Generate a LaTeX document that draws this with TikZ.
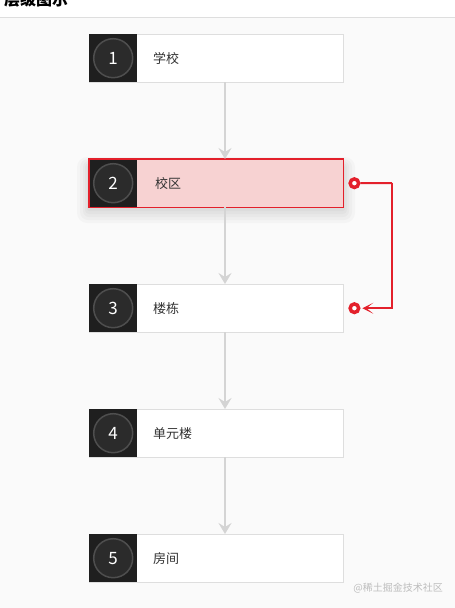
\documentclass[tikz,border=0pt]{standalone}
\usepackage{fontspec}
\setmainfont{Noto Sans CJK SC}
\usetikzlibrary{arrows.meta}
\definecolor{pagebg}{HTML}{FAFAFA}
\definecolor{linegray}{HTML}{D4D4D4}
\definecolor{boxborder}{HTML}{DEDEDE}
\definecolor{hired}{HTML}{E3202B}
\definecolor{hipink}{HTML}{F7D2D2}
\definecolor{badge}{HTML}{1F1F1F}
\definecolor{badgein}{HTML}{2B2B2B}
\definecolor{badgering}{HTML}{4E4E4E}
\definecolor{labeltext}{HTML}{333333}
\definecolor{marktext}{HTML}{BDBDBD}
\begin{document}
\begin{tikzpicture}[x=1pt,y=-1pt,
  levelbox/.style={draw=boxborder, fill=white, minimum width=254pt, minimum height=48pt, inner sep=0pt, anchor=north west},
  badgebox/.style={fill=badge, minimum size=48pt, inner sep=0pt, anchor=north west},
  badgenum/.style={circle, fill=badgein, draw=badgering, line width=1.5pt, minimum size=39pt, inner sep=0pt, text=white, font=\fontsize{17pt}{17pt}\selectfont},
  levellabel/.style={anchor=west, inner sep=0pt, text=labeltext, font=\fontsize{13pt}{13pt}\selectfont},
  levelarrow/.style={draw=linegray, line width=2pt, -{Stealth[length=11pt,width=13pt,inset=4pt]}},
  jumpdot/.style={circle, draw=hired, fill=white, line width=3.5pt, minimum size=8.5pt, inner sep=0pt},
  jumpline/.style={draw=hired, line width=2pt},
  softshadow/.style={fill=black, opacity=0.025}]
\useasboundingbox (0,0) rectangle (455,608);
\clip (0,0) rectangle (455,608);
\fill [pagebg] (0,0) rectangle (455,608);
\fill [white] (0,0) rectangle (455,17);
\draw [boxborder] (0,17.5) -- (455,17.5);
\node [anchor=west, inner sep=0pt, font=\bfseries\fontsize{16pt}{16pt}\selectfont] (title) at (4,-1) {层级图示};

% levels
\node [levelbox] (school) at (89,34) {};
\node [badgebox] (school-badge) at (89,34) {};
\node [badgenum] (school-num) at (school-badge.center) {1};
\node [levellabel] (school-label) at ([xshift=64pt]school.west) {学校};

% shadow under the selected level
\fill [softshadow, rounded corners=10pt] (77,157) rectangle (355,223);
\fill [softshadow, rounded corners=8pt] (80,159) rectangle (352,220);
\fill [softshadow, rounded corners=6pt] (83,161) rectangle (349,217);
\fill [softshadow, rounded corners=4pt] (85,163) rectangle (347,214);
\fill [softshadow, rounded corners=2pt] (87,165) rectangle (345,211);
\node [levelbox, draw=none, fill=hipink] (campus) at (89,159) {};
\node [badgebox] (campus-badge) at (89,159) {};
\node [badgenum] (campus-num) at (campus-badge.center) {2};
\node [levellabel] (campus-label) at ([xshift=66pt]campus.west) {校区};
\draw [hired, line width=1.6pt] (campus.north west) rectangle (campus.south east);

\node [levelbox] (building) at (89,284) {};
\node [badgebox] (building-badge) at (89,284) {};
\node [badgenum] (building-num) at (building-badge.center) {3};
\node [levellabel] (building-label) at ([xshift=64pt]building.west) {楼栋};

\node [levelbox] (unit) at (89,409) {};
\node [badgebox] (unit-badge) at (89,409) {};
\node [badgenum] (unit-num) at (unit-badge.center) {4};
\node [levellabel] (unit-label) at ([xshift=64pt]unit.west) {单元楼};

\node [levelbox] (room) at (89,534) {};
\node [badgebox] (room-badge) at (89,534) {};
\node [badgenum] (room-num) at (room-badge.center) {5};
\node [levellabel] (room-label) at ([xshift=64pt]room.west) {房间};

\draw [levelarrow] ([xshift=136pt]school.south west) -- ([xshift=136pt]campus.north west);
\draw [levelarrow] ([xshift=136pt]campus.south west) -- ([xshift=136pt]building.north west);
\draw [levelarrow] ([xshift=136pt]building.south west) -- ([xshift=136pt]unit.north west);
\draw [levelarrow] ([xshift=136pt]unit.south west) -- ([xshift=136pt]room.north west);

% jump from campus to building
\node [jumpdot] (jump-out) at ([xshift=11pt]campus.east) {};
\node [jumpdot] (jump-in) at ([xshift=11pt]building.east) {};
\coordinate (jump-turn) at (392,183);
\draw [jumpline] (jump-out.east) -- (jump-turn);
\draw [jumpline, shorten >=2pt, -{Stealth[length=11pt,width=11pt,inset=7pt]}] (jump-turn) |- (jump-in.east);

\node [anchor=east, inner sep=0pt, text=marktext, font=\fontsize{10pt}{10pt}\selectfont] (watermark) at (443,588) {@稀土掘金技术社区};
\end{tikzpicture}
\end{document}
